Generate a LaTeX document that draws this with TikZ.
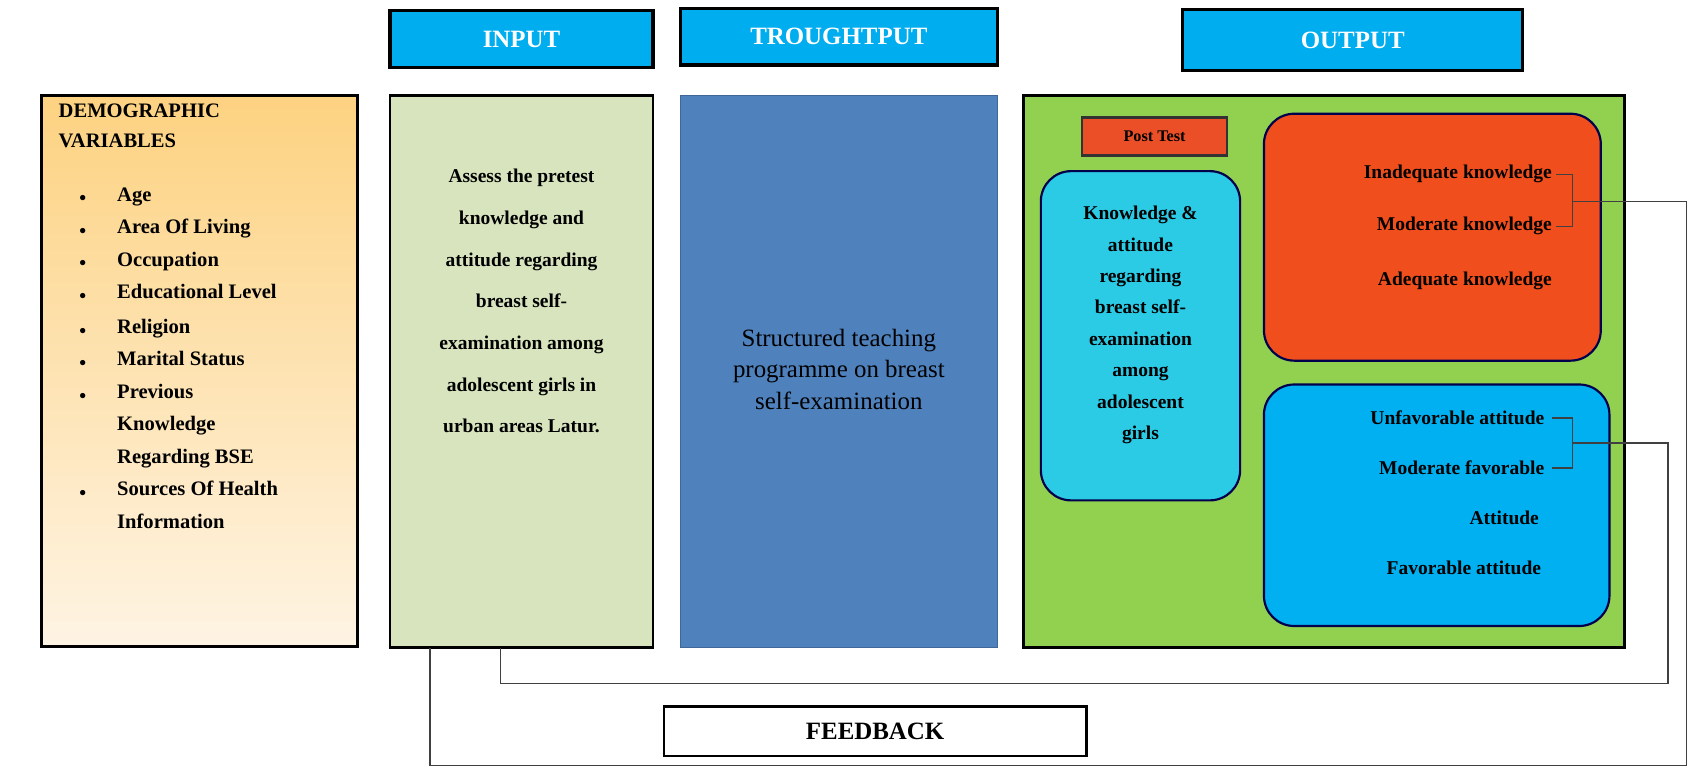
\documentclass[tikz,border=0pt]{standalone}
\usepackage{fontspec}
\setmainfont{Liberation Serif}
\begin{document}
\begin{tikzpicture}[x=1pt,y=-1pt,
  hdr/.style={draw=black,line width=3pt,fill=hdrblue,text=white,font=\fontsize{23}{26}\selectfont\bfseries},
  col/.style={draw=black,line width=2.5pt},
  rbox/.style={draw=black!70!blue,line width=2pt,rounded corners=28pt},
  lab/.style={font=\fontsize{18}{22}\selectfont\bfseries,inner sep=1pt},
  ln/.style={draw=black!75,line width=1.3pt}]
\definecolor{hdrblue}{HTML}{00ADEF}
\definecolor{dgtop}{HTML}{FDD281}
\definecolor{dgbot}{HTML}{FEF4E4}
\definecolor{inp}{HTML}{D7E4BD}
\definecolor{thr}{HTML}{4F81BD}
\definecolor{outg}{HTML}{92D050}
\definecolor{pt}{HTML}{EB4F27}
\definecolor{kb}{HTML}{2BCBE6}
\definecolor{rb}{HTML}{F04E1C}
\definecolor{ab}{HTML}{00B0F0}
\useasboundingbox (0,0) rectangle (1565,716);
% headers
\node[hdr,minimum width=243pt,minimum height=52pt] (hin) at (481.5,36) {INPUT};
\node[hdr,minimum width=293pt,minimum height=52pt] (hth) at (774.5,34) {TROUGHTPUT};
\node[hdr,minimum width=314pt,minimum height=56pt] (hout) at (1249,37) {OUTPUT};
% columns
\path[col,top color=dgtop,bottom color=dgbot] (38,88) rectangle (330,597);
\node[inner sep=0] (demo) at (184,342) {};
\path[col,fill=inp] (360,88) rectangle (603,598);
\node[inner sep=0] (inbox) at (481.5,598) {};
\path[draw=thr!80!black,line width=1pt,fill=thr] (628,88) rectangle (921,598);
\path[col,fill=outg] (945,88) rectangle (1500,598);
% demographic text
\node[lab,anchor=north west,align=left,font=\fontsize{19}{27}\selectfont\bfseries] (dtitle) at (53,95) {DEMOGRAPHIC\\VARIABLES};
\foreach \t/\y [count=\i] in {Age/185,Area Of Living/215,Occupation/245,Educational Level/275,Religion/307,Marital Status/337,Previous/367,Sources Of Health/457}
  {\node[lab,anchor=west] (db\i) at (72,\y) {\textbullet};}
\node[lab,anchor=north west,align=left,font=\fontsize{19}{30}\selectfont\bfseries] (dlist) at (107,172)
  {Age\\Area Of Living\\Occupation\\Educational Level\\[2pt]Religion\\Marital Status\\Previous\\Knowledge\\Regarding BSE\\Sources Of Health\\Information};
% input text
\node[lab,align=center,font=\fontsize{18}{38.5}\selectfont\bfseries] (intext) at (481.5,278)
  {Assess the pretest\\knowledge and\\attitude regarding\\breast self-\\examination among\\adolescent girls in\\urban areas Latur.};
\node[align=center,font=\fontsize{23}{29}\selectfont] (thtext) at (774.5,341)
  {Structured teaching\\programme on breast\\self-examination};
% output internals
\node[draw=black!80,line width=2pt,fill=pt,minimum width=134pt,minimum height=35pt,font=\fontsize{15}{18}\selectfont\bfseries] (post) at (1066,126) {Post Test};
\path[rbox,fill=kb] (961,158) rectangle (1145,462);
\node[lab,align=center,font=\fontsize{18}{29}\selectfont\bfseries] (ktext) at (1053,300)
  {Knowledge \&\\attitude\\regarding\\breast self-\\examination\\among\\adolescent\\girls};
\path[rbox,fill=rb] (1167,105) rectangle (1478,333);
\path[rbox,fill=ab] (1167,355) rectangle (1486,578);
\node[lab,anchor=east] (k1) at (1434,161) {Inadequate knowledge};
\node[lab,anchor=east] (k2) at (1434,209) {Moderate knowledge};
\node[lab,anchor=east] (k3) at (1434,259) {Adequate knowledge};
\node[lab,anchor=east] (a1) at (1427,386) {Unfavorable attitude};
\node[lab,anchor=east] (a2) at (1427,432) {Moderate favorable};
\node[lab,anchor=east] (a3) at (1422,478) {Attitude};
\node[lab,anchor=east] (a4) at (1424,524) {Favorable attitude};
% feedback
\node[draw=black,line width=2.5pt,fill=white,minimum width=390pt,minimum height=46pt,font=\fontsize{23}{26}\selectfont\bfseries] (fb) at (808,675) {FEEDBACK};
% connectors
\coordinate (kb) at (1452,186);
\coordinate (ab2) at (1452,409);
\draw[ln] (k1.east)++(3,0) -- (1452,161) -- (1452,209) -- ([xshift=3pt]k2.east);
\draw[ln] (kb) -- (1557,186) -- (1557,707) -- (397,707) -- (397,598);
\draw[ln] (a1.east)++(6,0) -- (1452,386) -- (1452,432) -- ([xshift=6pt]a2.east);
\draw[ln] (ab2) -- (1540,409) -- (1540,631) -- (462,631) -- (462,598);
\end{tikzpicture}
\end{document}
